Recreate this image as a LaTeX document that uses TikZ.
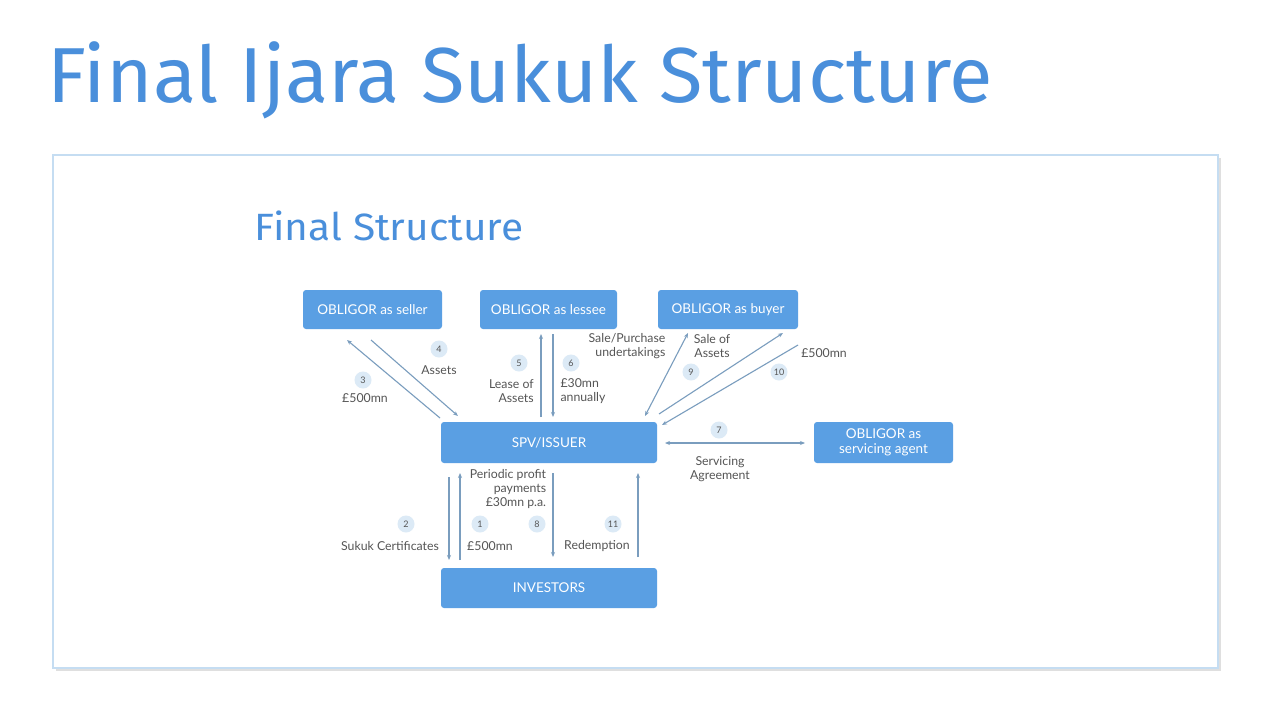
\documentclass[tikz,border=0pt]{standalone}
\usepackage{fontspec}
\setmainfont{Lato}
\newfontfamily\titlefont{Fira Sans}
\usetikzlibrary{arrows.meta}
\definecolor{bblue}{HTML}{5A9FE3}
\definecolor{tblue}{HTML}{4A8FDB}
\definecolor{lineb}{HTML}{7A9DBE}
\definecolor{circ}{HTML}{DCEAF6}
\definecolor{frameb}{HTML}{C5DDF2}
\definecolor{txt}{HTML}{555555}
\tikzset{
 box/.style={fill=bblue,rounded corners=3pt,text=white,font=\fontsize{13.5}{15.5}\selectfont,align=center,inner sep=0pt},
 arr/.style={draw=lineb,line width=1.1pt,-{Stealth[length=5pt,width=4pt]}},
 darr/.style={draw=lineb,line width=1.1pt,{Stealth[length=5pt,width=4pt]}-{Stealth[length=5pt,width=4pt]}},
 lbl/.style={text=txt,font=\fontsize{12.3}{14}\selectfont,align=center,inner sep=1pt},
 num/.style={circle,fill=circ,text=txt,font=\fontsize{9}{10}\selectfont,minimum size=17pt,inner sep=0pt}
}
\begin{document}
\begin{tikzpicture}[x=1pt,y=-1pt]
\useasboundingbox (0,0) rectangle (1280,720);
\fill[white] (0,0) rectangle (1280,720);
\node[anchor=west,text=tblue,font=\titlefont\fontsize{78}{80}\selectfont,xscale=1.02] (title) at (44,80) {Final Ijara Sukuk Structure};
\fill[gray!25] (56,158) rectangle (1221,671);
\draw[draw=frameb,line width=2pt,fill=white] (53,155) rectangle (1218,668);
\node[anchor=west,text=tblue,font=\titlefont\fontsize{38}{40}\selectfont,xscale=1.07] (sub) at (251,226) {Final Structure};
\node[box,minimum width=139pt,minimum height=39pt] (seller) at (372.5,309.5) {OBLIGOR as seller};
\node[box,minimum width=137pt,minimum height=39pt] (lessee) at (548.5,309.5) {OBLIGOR as lessee};
\node[box,minimum width=140pt,minimum height=39pt] (buyer) at (728,309.5) {OBLIGOR as buyer};
\node[box,minimum width=216pt,minimum height=41pt] (spv) at (549,442.5) {SPV/ISSUER};
\node[box,minimum width=139pt,minimum height=41pt] (agent) at (883.5,442.5) {OBLIGOR as\\servicing agent};
\node[box,minimum width=216pt,minimum height=40pt] (inv) at (549,588) {INVESTORS};
\coordinate (a3s) at (440,418); \coordinate (a3e) at (347,340);
\coordinate (a4s) at (371,340); \coordinate (a4e) at (458,416);
\draw[arr] (a3s) -- (a3e); \draw[arr] (a4s) -- (a4e);
\coordinate (a5s) at (541,417); \coordinate (a5e) at (541,334);
\coordinate (a6s) at (553,334); \coordinate (a6e) at (553,417);
\draw[arr] (a5s) -- (a5e); \draw[arr] (a6s) -- (a6e);
\coordinate (spa) at (645,416); \coordinate (spb) at (688,333);
\draw[darr] (spa) -- (spb);
\coordinate (a9s) at (659,414); \coordinate (a9e) at (783,333);
\coordinate (a10s) at (798,345); \coordinate (a10e) at (662,425);
\draw[arr] (a9s) -- (a9e); \draw[arr] (a10s) -- (a10e);
\coordinate (a7s) at (665,443); \coordinate (a7e) at (805,443);
\draw[darr] (a7s) -- (a7e);
\coordinate (a2s) at (449,477); \coordinate (a2e) at (449,560);
\coordinate (a1s) at (460,560); \coordinate (a1e) at (460,473);
\coordinate (a8s) at (553,473); \coordinate (a8e) at (553,557);
\coordinate (a11s) at (638,557); \coordinate (a11e) at (638,473);
\draw[arr] (a2s) -- (a2e); \draw[arr] (a1s) -- (a1e);
\draw[arr] (a8s) -- (a8e); \draw[arr] (a11s) -- (a11e);
% numbers
\node[num] (n3) at (363,380) {3};
\node[num] (n4) at (439,349) {4};
\node[num] (n5) at (519,363) {5};
\node[num] (n6) at (571,363) {6};
\node[num] (n9) at (691,372) {9};
\node[num] (n10) at (779,372) {10};
\node[num] (n7) at (719,430) {7};
\node[num] (n2) at (406,524) {2};
\node[num] (n1) at (480,524) {1};
\node[num] (n8) at (537,524) {8};
\node[num] (n11) at (613,524) {11};
% labels
\node[lbl] (l3) at (365,398) {£500mn};
\node[lbl] (l4) at (439,370) {Assets};
\node[lbl,align=right] (l5) at (510,391) {Lease of\\\hphantom{xx}Assets};
\node[lbl,align=left] (l6) at (583,391) {£30mn\\annually};
\node[lbl,align=right] (lsp) at (627,346) {Sale/Purchase\\undertakings};
\node[lbl] (lsa) at (712,346) {Sale of\\Assets};
\node[lbl] (l10) at (824,353) {£500mn};
\node[lbl] (l7) at (720,469) {Servicing\\Agreement};
\node[lbl,align=right] (lpp) at (508,489) {Periodic profit\\payments\\£30mn p.a.};
\node[lbl] (l2) at (390,546) {Sukuk Certificates};
\node[lbl] (l1) at (490,546) {£500mn};
\node[lbl] (l11) at (597,546) {Redemption};
\end{tikzpicture}
\end{document}
